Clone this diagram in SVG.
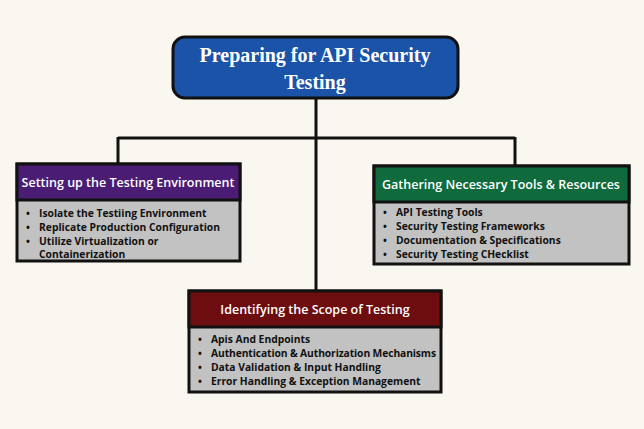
<svg xmlns="http://www.w3.org/2000/svg" width="644" height="429" viewBox="0 0 644 429">
<style>
.h{font-family:"Open Sans","Liberation Sans",sans-serif;font-size:12.5px;fill:#fff;font-weight:600}
.b{font-family:"Open Sans","Liberation Sans",sans-serif;font-size:10.3px;fill:#111;font-weight:700}
.ln{stroke:#111;stroke-width:3;fill:none}
.bx{stroke:#111;stroke-width:3}
</style>
<rect width="644" height="429" fill="#faf7f0"/>
<g id="connectors">
<path class="ln" d="M316 98V291M118 138H515M118 137V165M515 137V166"/>
</g>
<g id="title">
<rect x="173" y="37" width="285" height="61" rx="12" fill="#1a53a8" class="bx"/>
<text x="315" y="62" text-anchor="middle" font-family="Liberation Serif,serif" font-weight="bold" font-size="20" fill="#fff">Preparing for API Security</text>
<text x="315" y="89" text-anchor="middle" font-family="Liberation Serif,serif" font-weight="bold" font-size="20" fill="#fff">Testing</text>
</g>
<g id="env">
<rect x="17" y="164" width="223" height="97" fill="#c2c2c2" class="bx"/>
<rect x="17" y="164" width="223" height="36" fill="#4b1c73" class="bx"/>
<text class="h" x="128" y="187" text-anchor="middle">Setting up the Testing Environment</text>
<text class="b" x="26" y="217">•</text><text class="b" x="39" y="217">Isolate the Testiing Environment</text>
<text class="b" x="26" y="231">•</text><text class="b" x="39" y="231">Replicate Production Configuration</text>
<text class="b" x="26" y="245">•</text><text class="b" x="39" y="245">Utilize Virtualization or</text>
<text class="b" x="39" y="258">Containerization</text>
</g>
<g id="tools">
<rect x="374" y="166" width="255" height="98" fill="#c2c2c2" class="bx"/>
<rect x="374" y="166" width="255" height="36" fill="#0f6b3b" class="bx"/>
<text class="h" x="501" y="189" text-anchor="middle">Gathering Necessary Tools &amp; Resources</text>
<text class="b" x="383" y="216">•</text><text class="b" x="396" y="216">API Testing Tools</text>
<text class="b" x="383" y="230">•</text><text class="b" x="396" y="230">Security Testing Frameworks</text>
<text class="b" x="383" y="244">•</text><text class="b" x="396" y="244">Documentation &amp; Specifications</text>
<text class="b" x="383" y="258">•</text><text class="b" x="396" y="258">Security Testing CHecklist</text>
</g>
<g id="scope">
<rect x="189" y="291" width="252" height="101" fill="#c2c2c2" class="bx"/>
<rect x="189" y="291" width="252" height="36" fill="#6e0d0f" class="bx"/>
<text class="h" x="315" y="314" text-anchor="middle">Identifying the Scope of Testing</text>
<text class="b" x="198" y="343">•</text><text class="b" x="211" y="343">Apis And Endpoints</text>
<text class="b" x="198" y="357">•</text><text class="b" x="211" y="357" textLength="225">Authentication &amp; Authorization Mechanisms</text>
<text class="b" x="198" y="371">•</text><text class="b" x="211" y="371">Data Validation &amp; Input Handling</text>
<text class="b" x="198" y="385">•</text><text class="b" x="211" y="385">Error Handling &amp; Exception Management</text>
</g>
</svg>
